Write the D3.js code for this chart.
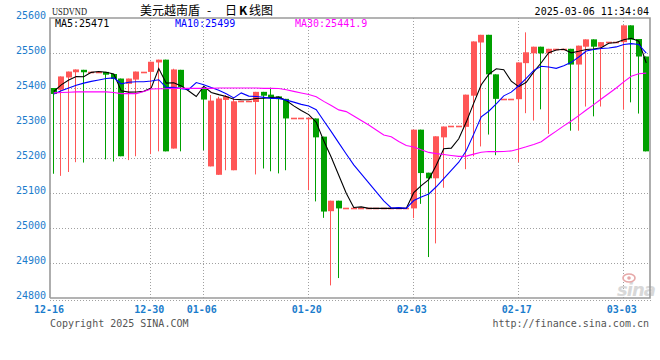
<!DOCTYPE html>
<html>
<head>
<meta charset="utf-8">
<script src="https://cdn.jsdelivr.net/npm/d3@7"></script>
<style>
  body { margin: 0; background: #fff; }
  svg { display: block; }
</style>
</head>
<body>
<div id="chart"></div>
<script>
///
/// Data (one slot per record, 12-16 .. 03-06)
///
const tickSlots  = [0, 13, 20, 34, 48, 62, 76];
const tickLabels = ['12-16', '12-30', '01-06', '01-20', '02-03', '02-17', '03-03'];
const priceTicks = [24800, 24900, 25000, 25100, 25200, 25300, 25400, 25500, 25600];

const open = [
  25400,25395,25430,25445,25452,25445,25445,25446,25440,25427,
  25412,25424,25447,25446,25473,25481,25227,25452,null,null,
  25401,25176,25152,25366,25165,25362,25362,25360,25389,25381,
  25376,25369,25313,25313,25313,25313,25261,25048,25078,25056,
  25056,25056,25056,25056,25056,25056,25056,25056,25056,25281,
  25158,25142,25259,25290,25290,25289,25378,25530,25552,25439,
  25369,25369,25368,25471,25499,25518,25499,25512,25512,25512,
  25467,25518,25539,25518,25531,25531,25531,25579,25540,25490
];
const high = [
  25400,25433,25447,25453,25452,25445,25445,25446,25440,25427,
  25427,25447,25447,25475,25481,25481,25455,25452,null,null,
  25401,25380,25375,25380,25373,25362,25362,25389,25389,25401,
  25376,25369,25313,25313,25313,25313,25261,25078,25078,25056,
  25056,25056,25056,25056,25056,25056,25056,25056,25281,25281,
  25158,25262,25290,25290,25290,25381,25533,25552,25552,25439,
  25369,25369,25473,25559,25518,25518,25512,25512,25512,25512,
  25521,25539,25539,25531,25531,25531,25579,25579,25540,25490
];
const low = [
  25155,25149,25160,25188,25187,25445,25445,25196,25190,25205,
  25194,25205,25447,25211,25219,25219,25227,25219,null,null,
  25222,25176,25152,25165,25165,25362,25362,25153,25170,25162,
  25156,25165,25313,25313,25108,25076,25029,24836,24857,25056,
  25056,25056,25056,25056,25056,25056,25056,25056,25028,25069,
  24917,24956,25115,25290,25290,25168,25205,25233,25267,25208,
  25369,25369,25188,25328,25307,25339,25269,25512,25512,25278,
  25278,25347,25319,25347,25531,25531,25338,25359,25327,25219
];
const close = [
  25383,25433,25447,25453,25445,25445,25445,25438,25426,25205,
  25427,25447,25447,25475,25481,25219,25453,25402,25402,25402,
  25367,25364,25370,25376,25362,25362,25362,25389,25378,25373,
  25368,25313,25313,25313,25313,25259,25047,25078,25056,25056,
  25056,25056,25056,25056,25056,25056,25056,25056,25281,25157,
  25142,25262,25290,25290,25290,25381,25533,25552,25439,25369,
  25369,25369,25473,25502,25518,25499,25512,25512,25512,25467,
  25521,25539,25518,25531,25531,25531,25579,25538,25490,25219
];

// moving-average values before the window is full
const ma5Head  = [25390,25409,25423,25433];
const ma10Head = [25383,25392,25400,25408,25414,25419,25423,25427,25429];
const ma30Head = [25386,25387,25388,25389,25389,25389,25389,25389,25387,25384,
                  25384,25384,25390,25397,25398,25398,25399,25399,25399,25399,
                  25399,25399,25400,25400,25400,25400,25400,25400,25399];

const maNames  = ['MA5', 'MA10', 'MA30'];
const maLast   = ['25471', '25499', '25441.9'];
const titleParts = ['美元越南盾', '-', '日', 'K', '线图'];

///
/// Helpers
///
const W = 660, H = 360;
const plotL = 50, plotR = 650, plotT = 18, plotB = 298;
const UP = '#ff5656', DOWN = '#00a000';
const GRID = '#a0a0a0', AXISBLUE = '#1a7ccc';
const MONO = "'DejaVu Sans Mono', monospace";

function movingAvg(n, head) {
  return close.map((c, i) => {
    if (i < head.length) return head[i];
    return d3.mean(close.slice(i - n + 1, i + 1));
  });
}
const maSeries = [movingAvg(5, ma5Head), movingAvg(10, ma10Head), movingAvg(30, ma30Head)];
const maColors = ['#000000', '#0000ff', '#ff00ff'];

///
/// Scales
///
const slots = d3.range(close.length);
const x = d3.scalePoint().domain(slots).range([plotL, plotR]).padding(0.5);
const y = d3.scaleLinear().domain([24800, 25600]).range([plotB, plotT]);

const svg = d3.select('#chart').append('svg')
  .attr('width', W).attr('height', H);

///
/// Grid
///
const grid = svg.append('g').attr('stroke', GRID).attr('stroke-dasharray', '1,2');
priceTicks.slice(1, -1).forEach(v => {
  grid.append('line')
    .attr('x1', plotL).attr('x2', plotR)
    .attr('y1', Math.round(y(v)) + 0.5).attr('y2', Math.round(y(v)) + 0.5);
});
tickSlots.slice(1).forEach(s => {
  const gx = Math.round(x(s)) - 0.5;
  grid.append('line').attr('x1', gx).attr('x2', gx).attr('y1', plotT).attr('y2', plotB);
});
// dotted line under the frame
svg.append('line')
  .attr('x1', plotL).attr('x2', plotR + 3)
  .attr('y1', plotB + 2.5).attr('y2', plotB + 2.5)
  .attr('stroke', GRID).attr('stroke-dasharray', '1,2');

///
/// Sina logo (faint)
///
const logo = svg.append('g').attr('transform', 'translate(617,296)');
logo.append('text')
  .attr('font-family', "'DejaVu Sans', sans-serif")
  .attr('font-size', 18).attr('font-weight', 'bold').attr('font-style', 'italic')
  .attr('fill', '#d8d8d8').attr('letter-spacing', -1)
  .text('sina');
logo.append('ellipse').attr('cx', 12).attr('cy', -18).attr('rx', 6).attr('ry', 4)
  .attr('fill', 'none').attr('stroke', '#e6a8a8').attr('stroke-width', 1.6);
logo.append('circle').attr('cx', 12).attr('cy', -18).attr('r', 1.8).attr('fill', '#e6a8a8');

///
/// Candles
///
const candles = svg.append('g');
slots.forEach(i => {
  if (open[i] == null) return;
  const o = open[i], c = close[i], hi = high[i], lo = low[i];
  const col = c < o ? DOWN : UP;
  const bx = Math.round(x(i) - 3);
  const wx = bx + 2.5;
  candles.append('line')
    .attr('x1', wx).attr('x2', wx)
    .attr('y1', y(hi)).attr('y2', y(lo))
    .attr('stroke', col).attr('stroke-width', 1);
  const y0 = y(Math.max(o, c)), y1 = y(Math.min(o, c));
  if (y1 - y0 < 1.5) {
    candles.append('line')
      .attr('x1', bx).attr('x2', bx + 6)
      .attr('y1', Math.round(y0) + 0.5).attr('y2', Math.round(y0) + 0.5)
      .attr('stroke', col).attr('stroke-width', 1.6);
  } else {
    candles.append('rect')
      .attr('x', bx).attr('y', y0)
      .attr('width', 6).attr('height', y1 - y0)
      .attr('fill', col);
  }
});

///
/// MA lines
///
const line = d3.line().x((d, i) => x(i)).y(d => y(d));
maSeries.forEach((s, k) => {
  svg.append('path')
    .attr('d', line(s))
    .attr('fill', 'none')
    .attr('stroke', maColors[k])
    .attr('stroke-width', 1.1);
});

///
/// Frame
///
svg.append('path')
  .attr('d', `M${plotL},${plotB}V${plotT}H${plotR}V${plotB}H${plotL}`)
  .attr('fill', 'none').attr('stroke', '#9a9a9a').attr('stroke-width', 1.6);

///
/// Axes labels
///
svg.append('g').selectAll('text').data(priceTicks).join('text')
  .attr('x', 46).attr('y', d => y(d) + 1)
  .attr('text-anchor', 'end')
  .attr('font-family', MONO).attr('font-size', 10)
  .attr('fill', AXISBLUE)
  .text(d => d);

svg.append('g').selectAll('text').data(tickSlots).join('text')
  .attr('x', (d, i) => i === 0 ? 49 : x(d) - 2)
  .attr('y', 313)
  .attr('text-anchor', 'middle')
  .attr('font-family', MONO).attr('font-size', 10).attr('font-weight', 'bold')
  .attr('fill', AXISBLUE)
  .text((d, i) => tickLabels[i]);

///
/// Legend and titles
///
const legendX = [55, 175, 295];
maNames.forEach((n, k) => {
  svg.append('text')
    .attr('x', legendX[k]).attr('y', 27)
    .attr('font-family', MONO).attr('font-size', 10)
    .attr('fill', maColors[k])
    .text(n + ':' + maLast[k]);
});

svg.append('text')
  .attr('x', 52).attr('y', 15)
  .attr('font-family', "'Liberation Serif', serif").attr('font-size', 11)
  .attr('textLength', 35).attr('lengthAdjust', 'spacingAndGlyphs')
  .attr('fill', '#222')
  .text('USDVND');

const title = svg.append('text')
  .attr('y', 15)
  .attr('font-family', "'Noto Sans CJK SC', sans-serif").attr('font-size', 12)
  .attr('fill', '#000');
const titleX = [140, 207, 225, 239, 249];
titleParts.forEach((t, k) => {
  title.append('tspan').attr('x', titleX[k])
    .attr('font-weight', t === 'K' ? 'bold' : null)
    .text(t);
});

svg.append('text')
  .attr('x', 649).attr('y', 15)
  .attr('text-anchor', 'end')
  .attr('font-family', MONO).attr('font-size', 10)
  .attr('fill', '#000')
  .text('2025-03-06 11:34:04');

svg.append('text')
  .attr('x', 50).attr('y', 327)
  .attr('font-family', MONO).attr('font-size', 10)
  .attr('fill', '#555')
  .text('Copyright 2025 SINA.COM');

svg.append('text')
  .attr('x', 649).attr('y', 327)
  .attr('text-anchor', 'end')
  .attr('font-family', MONO).attr('font-size', 10)
  .attr('fill', '#555')
  .text('http://finance.sina.com.cn');
</script>
</body>
</html>
